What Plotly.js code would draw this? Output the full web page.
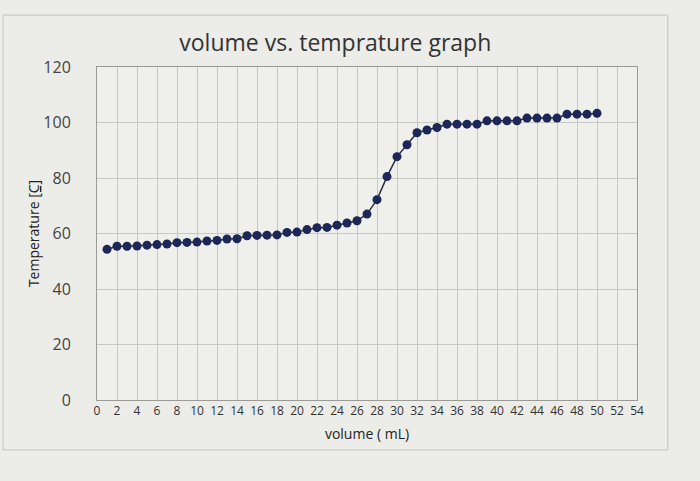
<!DOCTYPE html>
<html>
<head>
<meta charset="utf-8">
<script src="https://cdn.plot.ly/plotly-3.0.1.min.js"></script>
<style>
html,body{margin:0;padding:0;background:#ecece8;}
#chart{width:700px;height:481px;}
</style>
</head>
<body>
<div id="chart"></div>
<script>
// Data
var volumeML = [1,2,3,4,5,6,7,8,9,10,11,12,13,14,15,16,17,18,19,20,21,22,23,24,25,26,27,28,29,30,31,32,33,34,35,36,37,38,39,40,41,42,43,44,45,46,47,48,49,50];
var temperatureC = [54.3,55.4,55.4,55.5,55.8,56,56.2,56.7,56.8,56.9,
                    57.3,57.5,58,58.1,59.2,59.3,59.4,59.5,60.4,60.5,
                    61.4,62.1,62.2,63,63.8,64.6,67,72.2,80.5,87.7,
                    92,96.3,97.3,98.2,99.4,99.4,99.4,99.4,100.6,100.6,
                    100.6,100.6,101.6,101.6,101.6,101.6,103,103,103,103.3];
var chartTitle = "volume vs. temprature graph";
var xTitle = "volume ( mL)";
var yTitle = 'Temperature <span style="text-decoration:underline">[C]</span>';

var trace = {
  x: volumeML,
  y: temperatureC,
  type: 'scatter',
  mode: 'lines+markers',
  line: {color: '#2a2f45', width: 1.5},
  marker: {color: '#1c2757', size: 9},
  hoverinfo: 'x+y'
};

var font = 'Open Sans, Lato, sans-serif';
var layout = {
  width: 700, height: 481,
  margin: {l: 97, r: 63, t: 67, b: 81},
  paper_bgcolor: '#ecece8',
  plot_bgcolor: '#efefeb',
  showlegend: false,
  font: {family: font, color: '#333333'},
  title: {text: chartTitle, x: 0.479, xref: 'container', xanchor: 'center', y: 0.91, yref: 'container', yanchor: 'middle', font: {size: 23, color: '#333333', family: font}},
  xaxis: {
    range: [0, 54], dtick: 2, tick0: 0,
    showgrid: true, gridcolor: '#c8c8c3', gridwidth: 1,
    showline: true, linecolor: '#9a9a96', linewidth: 1, mirror: true,
    zeroline: false, ticks: '',
    tickfont: {size: 12, color: '#333333'},
    title: {text: xTitle, standoff: 10, font: {size: 14, color: '#222222'}}
  },
  yaxis: {
    range: [0, 120], dtick: 20, tick0: 0,
    showgrid: true, gridcolor: '#c8c8c3', gridwidth: 1,
    showline: true, linecolor: '#9a9a96', linewidth: 1, mirror: true,
    zeroline: false, ticks: '', ticklabelstandoff: 22,
    tickfont: {size: 16, color: '#444444'},
    title: {text: yTitle, standoff: 0, font: {size: 14, color: '#222222'}}
  },
  shapes: [{
    type: 'rect', xref: 'paper', yref: 'paper',
    x0: -0.174, x1: 1.057, y0: -0.15, y1: 1.156,
    line: {color: '#c4c4bf', width: 1}, fillcolor: 'rgba(0,0,0,0)', layer: 'below'
  }]
};

Plotly.newPlot('chart', [trace], layout, {displayModeBar: false, staticPlot: true});
</script>
</body>
</html>
